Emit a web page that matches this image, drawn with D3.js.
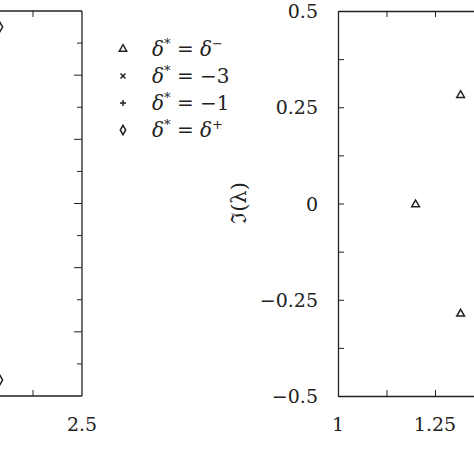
<!DOCTYPE html>
<html><head><meta charset="utf-8">
<script src="https://cdn.jsdelivr.net/npm/d3@7"></script>
<style>body{margin:0;background:#fff}text{font-family:"DejaVu Serif",serif;fill:#222}</style>
</head><body><svg id="c" width="474" height="474"></svg>
<script>
// right panel data (triangles, delta* = delta-)
var triX = [1.2, 1.316, 1.316];
var triY = [0, 0.284, -0.284];
// left panel data (diamonds, delta* = delta+)
var diaX = [2.29, 2.29];
var diaY = [0.275, -0.275];
var legendLabels = [["−", ""], ["", "−3"], ["", "−1"], ["+", ""]];
var legendSyms = ["tri", "x", "plus", "dia"];
var rightYTicks = [-0.5, -0.25, 0, 0.25, 0.5];
var rightXTicks = [1, 1.25];

(function() {
var svg = d3.select("#c");
var yTop = 11, yBot = 396;
var fs = 19;

// left panel (mostly cropped)
var lx = d3.scaleLinear().domain([2, 2.5]).range([-114, 82]);
var ly = d3.scaleLinear().domain([-0.3, 0.3]).range([yBot, yTop]);
var L = svg.append("g");
L.append("line").attr("x1", -5).attr("x2", 82).attr("y1", yTop).attr("y2", yTop).attr("stroke", "#222").attr("stroke-width", 1.3);
L.append("line").attr("x1", -5).attr("x2", 82).attr("y1", yBot).attr("y2", yBot).attr("stroke", "#222").attr("stroke-width", 1.3);
L.append("line").attr("x1", 82).attr("x2", 82).attr("y1", yTop).attr("y2", yBot).attr("stroke", "#222").attr("stroke-width", 1.3);
d3.range(1, 12).forEach(function(i) {
  var v = -0.3 + i * 0.05;
  var len = (i % 2 == 0) ? 8 : 5;
  L.append("line").attr("x1", 82).attr("x2", 82 - len).attr("y1", ly(v)).attr("y2", ly(v)).attr("stroke", "#222");
});
[2.375].forEach(function(v) {
  L.append("line").attr("x1", lx(v)).attr("x2", lx(v)).attr("y1", yTop).attr("y2", yTop + 6).attr("stroke", "#222");
  L.append("line").attr("x1", lx(v)).attr("x2", lx(v)).attr("y1", yBot).attr("y2", yBot - 6).attr("stroke", "#222");
});
L.append("text").attr("x", lx(2.5)).attr("y", 431).attr("text-anchor", "middle").attr("font-size", fs).text("2.5");
diaX.forEach(function(x, i) {
  L.append("path").attr("d", d3.symbol(d3.symbolDiamond, 30)()).attr("transform", "translate(" + lx(x) + "," + ly(diaY[i]) + ")")
    .attr("fill", "none").attr("stroke", "#222").attr("stroke-width", 1.5);
});

// legend
function sym(g, kind) {
  if (kind == "tri") g.append("path").attr("d", d3.symbol(d3.symbolTriangle, 24)());
  else if (kind == "dia") g.append("path").attr("d", d3.symbol(d3.symbolDiamond, 26)());
  else if (kind == "x") g.append("path").attr("d", "M-2.5,-2.5L2.5,2.5M-2.5,2.5L2.5,-2.5");
  else g.append("path").attr("d", "M-3,0L3,0M0,-3L0,3");
  g.selectAll("path").attr("fill", "none").attr("stroke", "#222").attr("stroke-width", 1.5);
}
legendLabels.forEach(function(l, i) {
  var y = 49 + i * 27;
  sym(svg.append("g").attr("transform", "translate(123," + y + ")"), legendSyms[i]);
  var t = svg.append("text").attr("x", 152).attr("y", y + 7).attr("font-size", 20);
  t.append("tspan").attr("font-style", "italic").text("δ");
  t.append("tspan").attr("dy", -8).attr("font-size", 13).text("*");
  t.append("tspan").attr("dy", 8).text(" = ");
  if (l[1]) t.append("tspan").text(l[1]);
  else {
    t.append("tspan").attr("font-style", "italic").text("δ");
    t.append("tspan").attr("dy", -8).attr("font-size", 13).text(l[0]);
  }
});

// right panel
var x = d3.scaleLinear().domain([1, 1.75]).range([338, 629]);
var y = d3.scaleLinear().domain([-0.5, 0.5]).range([yBot, yTop]);
var R = svg.append("g");
R.append("g").attr("transform", "translate(0," + yBot + ")")
  .call(d3.axisBottom(x).tickValues(d3.range(1, 1.75, 0.125)).tickSizeInner(-6).tickSizeOuter(0).tickFormat(""));
R.append("g").attr("transform", "translate(0," + yTop + ")")
  .call(d3.axisTop(x).tickValues(d3.range(1, 1.75, 0.125)).tickSizeInner(-6).tickSizeOuter(0).tickFormat(""));
R.append("g").attr("transform", "translate(338,0)")
  .call(d3.axisLeft(y).tickValues(d3.range(-0.5, 0.5001, 0.125)).tickSizeInner(-6).tickSizeOuter(0).tickFormat(""));
R.selectAll(".domain").attr("stroke", "#222").attr("stroke-width", 1.3);
R.selectAll(".tick line").attr("stroke", "#222");
rightYTicks.forEach(function(v) {
  R.append("text").attr("x", 318).attr("y", y(v) + 7).attr("text-anchor", "end").attr("font-size", fs)
    .text(v == 0 ? "0" : String(v).replace("-", "−"));
});
rightXTicks.forEach(function(v) {
  R.append("text").attr("x", x(v)).attr("y", 431).attr("text-anchor", "middle").attr("font-size", fs).text(String(v));
});
triX.forEach(function(tx, i) {
  R.append("path").attr("d", d3.symbol(d3.symbolTriangle, 26)()).attr("transform", "translate(" + x(tx) + "," + (y(triY[i]) + 1) + ")")
    .attr("fill", "none").attr("stroke", "#222").attr("stroke-width", 1.5);
});
svg.append("text").attr("transform", "translate(246,203) rotate(-90)").attr("text-anchor", "middle").attr("font-size", 21)
  .text("ℑ(λ)");
})();
</script></body></html>
